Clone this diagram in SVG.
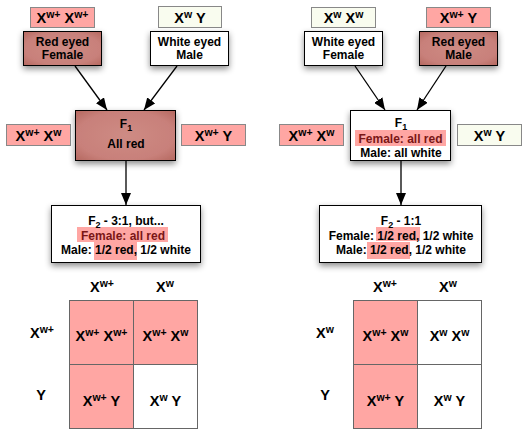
<svg xmlns="http://www.w3.org/2000/svg" width="526" height="433" viewBox="0 0 526 433">
<defs>
<style>
text{font-family:"Liberation Sans",Arial,sans-serif;font-weight:bold;fill:#000;text-anchor:middle}
.t12{font-size:12px}
.t14{font-size:14.5px}
.sup{font-size:10.5px}
.dr{fill:#7a1616}
.pink{fill:#FFA6A3;stroke:#888;stroke-width:1}
.cream{fill:#F9FCEF;stroke:#888;stroke-width:1}
.dusk{fill:url(#dusk);stroke:#000;stroke-width:1}
.wbox{fill:#fff;stroke:#000;stroke-width:1}
.hl{fill:#FFA6A3}
.cell{stroke:#666;stroke-width:1}
.conn line{stroke:#000;stroke-width:1.3}
</style>
<radialGradient id="dusk" cx="0.5" cy="0.5" r="0.7">
<stop offset="0" stop-color="#CE8B84"/>
<stop offset="0.7" stop-color="#C8807A"/>
<stop offset="1" stop-color="#B56860"/>
</radialGradient>
<filter id="sh" x="-20%" y="-20%" width="140%" height="160%">
<feDropShadow dx="0" dy="3" stdDeviation="3" flood-color="#000" flood-opacity="0.45"/>
</filter>
<marker id="ah" viewBox="0 0 12 10" refX="12" refY="5" markerWidth="12" markerHeight="10" markerUnits="userSpaceOnUse" orient="auto">
<path d="M0,0 L12,5 L0,10 z" fill="#000"/>
</marker>
</defs>
<rect width="526" height="433" fill="#fff"/>

<g class="conn" id="connectors">
<line x1="75" y1="66" x2="107" y2="110" marker-end="url(#ah)"/>
<line x1="177" y1="66" x2="144" y2="110" marker-end="url(#ah)"/>
<line x1="126" y1="161" x2="126" y2="205" marker-end="url(#ah)"/>
<line x1="355" y1="66" x2="385" y2="110" marker-end="url(#ah)"/>
<line x1="446" y1="66" x2="417" y2="110" marker-end="url(#ah)"/>
<line x1="401" y1="161" x2="401" y2="205" marker-end="url(#ah)"/>
</g>

<!-- Left cross -->
<g id="l-geno-f">
<rect class="pink" x="30.5" y="7.5" width="64" height="20"/>
<text class="t14" x="62.5" y="23">X<tspan class="sup" dy="-5">w+</tspan><tspan dy="5"> X</tspan><tspan class="sup" dy="-5">w+</tspan></text>
</g>
<g id="l-female">
<rect class="dusk" x="23.5" y="31.5" width="78" height="34" filter="url(#sh)"/>
<text class="t12" x="62.5" y="46">Red eyed</text>
<text class="t12" x="62.5" y="59">Female</text>
</g>
<g id="l-geno-m">
<rect class="cream" x="158.5" y="6.5" width="63" height="21"/>
<text class="t14" x="190" y="23">X<tspan class="sup" dy="-5">w</tspan><tspan dy="5"> Y</tspan></text>
</g>
<g id="l-male">
<rect class="wbox" x="150.5" y="31.5" width="78" height="34" filter="url(#sh)"/>
<text class="t12" x="189.5" y="46">White eyed</text>
<text class="t12" x="189.5" y="59">Male</text>
</g>
<g id="l-f1">
<rect class="dusk" x="75.5" y="110.5" width="100" height="50" filter="url(#sh)"/>
<text class="t12" x="126" y="128">F<tspan font-size="9" dy="3">1</tspan></text>
<text class="t12" x="126" y="148">All red</text>
</g>
<g id="l-f1-female">
<rect class="pink" x="6.5" y="124.5" width="64" height="21"/>
<text class="t14" x="38.5" y="141">X<tspan class="sup" dy="-5">w+</tspan><tspan dy="5"> X</tspan><tspan class="sup" dy="-5">w</tspan></text>
</g>
<g id="l-f1-male">
<rect class="pink" x="181.5" y="124.5" width="64" height="21"/>
<text class="t14" x="213.5" y="141">X<tspan class="sup" dy="-5">w+</tspan><tspan dy="5"> Y</tspan></text>
</g>
<g id="l-f2">
<rect class="wbox" x="51.5" y="205.5" width="149" height="57" filter="url(#sh)"/>
<rect class="hl" x="77" y="227" width="91" height="15"/>
<rect class="hl" x="94" y="242" width="43" height="18"/>
<text class="t12" x="126" y="225">F<tspan font-size="9" dy="3">2</tspan><tspan dy="-3"> - 3:1, but...</tspan></text>
<text class="t12 dr" x="123" y="240">Female: all red</text>
<text class="t12" x="126" y="254">Male: 1/2 red, 1/2 white</text>
</g>
<g id="l-punnett">
<text class="t14" x="102" y="292">X<tspan class="sup" dy="-5">w+</tspan></text>
<text class="t14" x="165" y="292">X<tspan class="sup" dy="-5">w</tspan></text>
<text class="t14" x="42" y="338">X<tspan class="sup" dy="-5">w+</tspan></text>
<text class="t14" x="41" y="400">Y</text>
<rect class="cell" x="69.5" y="300.5" width="64" height="64" fill="#FFA6A3"/>
<rect class="cell" x="133.5" y="300.5" width="64" height="64" fill="#FFA6A3"/>
<rect class="cell" x="69.5" y="364.5" width="64" height="64" fill="#FFA6A3"/>
<rect class="cell" x="133.5" y="364.5" width="64" height="64" fill="#fff"/>
<text class="t14" x="101.5" y="341">X<tspan class="sup" dy="-5">w+</tspan><tspan dy="5"> X</tspan><tspan class="sup" dy="-5">w+</tspan></text>
<text class="t14" x="165.5" y="341">X<tspan class="sup" dy="-5">w+</tspan><tspan dy="5"> X</tspan><tspan class="sup" dy="-5">w</tspan></text>
<text class="t14" x="101.5" y="406">X<tspan class="sup" dy="-5">w+</tspan><tspan dy="5"> Y</tspan></text>
<text class="t14" x="165.5" y="406">X<tspan class="sup" dy="-5">w</tspan><tspan dy="5"> Y</tspan></text>
</g>

<!-- Right cross -->
<g id="r-geno-f">
<rect class="cream" x="311.5" y="7.5" width="64" height="20"/>
<text class="t14" x="343.5" y="23">X<tspan class="sup" dy="-5">w</tspan><tspan dy="5"> X</tspan><tspan class="sup" dy="-5">w</tspan></text>
</g>
<g id="r-female">
<rect class="wbox" x="304.5" y="31.5" width="78" height="34" filter="url(#sh)"/>
<text class="t12" x="343.5" y="46">White eyed</text>
<text class="t12" x="343.5" y="59">Female</text>
</g>
<g id="r-geno-m">
<rect class="pink" x="426.5" y="7.5" width="64" height="20"/>
<text class="t14" x="458.5" y="23">X<tspan class="sup" dy="-5">w+</tspan><tspan dy="5"> Y</tspan></text>
</g>
<g id="r-male">
<rect class="dusk" x="419.5" y="31.5" width="78" height="34" filter="url(#sh)"/>
<text class="t12" x="458.5" y="46">Red eyed</text>
<text class="t12" x="458.5" y="59">Male</text>
</g>
<g id="r-f1">
<rect class="wbox" x="350.5" y="110.5" width="100" height="50" filter="url(#sh)"/>
<rect class="hl" x="355" y="130" width="91" height="16"/>
<text class="t12" x="401" y="127">F<tspan font-size="9" dy="3">1</tspan></text>
<text class="t12 dr" x="400.5" y="142.5">Female: all red</text>
<text class="t12" x="401" y="156.5">Male: all white</text>
</g>
<g id="r-f1-female">
<rect class="pink" x="279.5" y="124.5" width="64" height="21"/>
<text class="t14" x="311.5" y="141">X<tspan class="sup" dy="-5">w+</tspan><tspan dy="5"> X</tspan><tspan class="sup" dy="-5">w</tspan></text>
</g>
<g id="r-f1-male">
<rect class="cream" x="457.5" y="124.5" width="64" height="21"/>
<text class="t14" x="489.5" y="141">X<tspan class="sup" dy="-5">w</tspan><tspan dy="5"> Y</tspan></text>
</g>
<g id="r-f2">
<rect class="wbox" x="319.5" y="205.5" width="162" height="57" filter="url(#sh)"/>
<rect class="hl" x="376" y="227" width="44" height="14"/>
<rect class="hl" x="367" y="242" width="43" height="17"/>
<text class="t12" x="401" y="225">F<tspan font-size="9" dy="3">2</tspan><tspan dy="-3"> - 1:1</tspan></text>
<text class="t12" x="401" y="240">Female: 1/2 red, 1/2 white</text>
<text class="t12" x="401" y="254">Male: 1/2 red, 1/2 white</text>
</g>
<g id="r-punnett">
<text class="t14" x="385" y="292">X<tspan class="sup" dy="-5">w+</tspan></text>
<text class="t14" x="448" y="292">X<tspan class="sup" dy="-5">w</tspan></text>
<text class="t14" x="325" y="338">X<tspan class="sup" dy="-5">w</tspan></text>
<text class="t14" x="325" y="400">Y</text>
<rect class="cell" x="353.5" y="300.5" width="64" height="64" fill="#FFA6A3"/>
<rect class="cell" x="417.5" y="300.5" width="64" height="64" fill="#fff"/>
<rect class="cell" x="353.5" y="364.5" width="64" height="64" fill="#FFA6A3"/>
<rect class="cell" x="417.5" y="364.5" width="64" height="64" fill="#fff"/>
<text class="t14" x="385.5" y="341">X<tspan class="sup" dy="-5">w+</tspan><tspan dy="5"> X</tspan><tspan class="sup" dy="-5">w</tspan></text>
<text class="t14" x="449.5" y="341">X<tspan class="sup" dy="-5">w</tspan><tspan dy="5"> X</tspan><tspan class="sup" dy="-5">w</tspan></text>
<text class="t14" x="385.5" y="406">X<tspan class="sup" dy="-5">w+</tspan><tspan dy="5"> Y</tspan></text>
<text class="t14" x="449.5" y="406">X<tspan class="sup" dy="-5">w</tspan><tspan dy="5"> Y</tspan></text>
</g>
</svg>
